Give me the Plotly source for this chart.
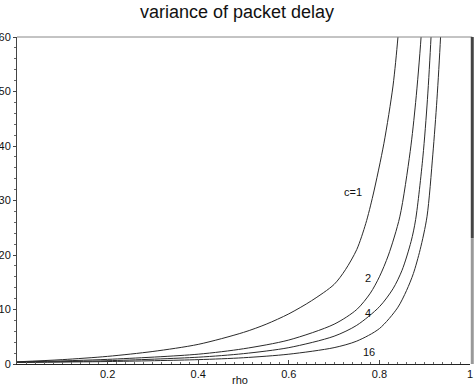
import plotly.graph_objects as go

# data (rho, variance of packet delay)
rho_c1 = [0.0, 0.1, 0.2, 0.3, 0.4, 0.5, 0.55, 0.6, 0.65, 0.7, 0.725, 0.75, 0.77, 0.786, 0.81, 0.83, 0.841, 0.86]
var_c1 = [0.4, 0.8, 1.4, 2.3, 3.6, 5.8, 7.3, 9.2, 11.6, 14.6, 17.3, 21.0, 25.8, 31.0, 40.5, 51.0, 60.0, 80.0]

rho_c2 = [0.0, 0.2, 0.4, 0.5, 0.6, 0.7, 0.75, 0.78, 0.8, 0.82, 0.845, 0.868, 0.88, 0.892, 0.905]
var_c2 = [0.35, 0.85, 1.8, 2.8, 4.4, 7.3, 10.0, 13.0, 16.0, 20.0, 27.0, 39.0, 48.0, 60.0, 80.0]

rho_c4 = [0.0, 0.2, 0.4, 0.5, 0.6, 0.7, 0.75, 0.8, 0.83, 0.85, 0.87, 0.88, 0.896, 0.906, 0.914, 0.925]
var_c4 = [0.3, 0.6, 1.25, 1.9, 3.0, 5.1, 7.1, 10.5, 13.8, 17.2, 22.5, 26.5, 38.0, 48.5, 60.0, 80.0]

rho_c16 = [0.0, 0.2, 0.4, 0.5, 0.6, 0.7, 0.75, 0.8, 0.84, 0.86, 0.875, 0.89, 0.905, 0.918, 0.927, 0.935, 0.945]
var_c16 = [0.3, 0.45, 0.8, 1.15, 1.8, 3.0, 4.2, 6.5, 10.3, 13.5, 16.6, 21.0, 27.0, 38.5, 48.5, 60.0, 80.0]

curve_labels = ["c=1", "2", "4", "16"]
label_rho = [0.742, 0.775, 0.775, 0.777]
label_var = [31.6, 15.8, 9.4, 2.2]

x_tickvals = [0.2, 0.4, 0.6, 0.8, 1]
x_ticktext = ["0.2", "0.4", "0.6", "0.8", "1"]
y_tickvals = [0, 10, 20, 30, 40, 50, 60]

FONT = "Liberation Sans, Arial, sans-serif"
LINE = "#2a2a2a"

fig = go.Figure()
for xs, ys in [(rho_c1, var_c1), (rho_c2, var_c2), (rho_c4, var_c4), (rho_c16, var_c16)]:
    fig.add_trace(go.Scatter(x=xs, y=ys, mode="lines",
                             line=dict(color=LINE, width=1, shape="spline", smoothing=0.8),
                             showlegend=False, hoverinfo="skip"))

for t, xv, yv in zip(curve_labels, label_rho, label_var):
    fig.add_annotation(x=xv, y=yv, text=t, showarrow=False,
                       font=dict(family=FONT, size=11, color="#111"),
                       xanchor="center", yanchor="middle")

# axis title "rho"
fig.add_annotation(xref="paper", yref="paper", x=0.492, y=-0.05, text="rho",
                   showarrow=False, font=dict(family=FONT, size=11, color="#111"),
                   xanchor="center", yanchor="middle")

# top frame line and right-hand bar
fig.add_shape(type="line", xref="paper", yref="paper", x0=0, x1=1.005, y0=1, y1=1,
              line=dict(color="#888", width=1))
fig.add_shape(type="line", xref="paper", yref="paper", x0=1.005, x1=1.005, y0=0.385, y1=1,
              line=dict(color="#444", width=3))
fig.add_shape(type="line", xref="paper", yref="paper", x0=1.005, x1=1.005, y0=0.0, y1=0.385,
              line=dict(color="#999", width=3))

fig.update_layout(
    width=474, height=386,
    margin=dict(l=17, r=4, t=37, b=22, autoexpand=False),
    paper_bgcolor="white", plot_bgcolor="white",
    title=dict(text="variance of packet delay", x=0.5, xanchor="center",
               y=1 - 12 / 386, yanchor="middle", yref="container",
               font=dict(family=FONT, size=18, color="#111")),
    font=dict(family=FONT, size=11, color="#111"),
)
fig.update_xaxes(range=[0, 1], tickvals=x_tickvals, ticktext=x_ticktext, automargin=False,
                 showgrid=False, zeroline=False, showline=True, linecolor="#222", linewidth=1,
                 ticks="inside", ticklen=4, tickcolor="#444",
                 minor=dict(dtick=0.02, ticks="inside", ticklen=2, tickcolor="#666"),
                 tickfont=dict(family=FONT, size=11, color="#111"))
fig.update_yaxes(range=[0, 60], tickvals=y_tickvals, automargin=False,
                 showgrid=False, zeroline=False, showline=True, linecolor="#444", linewidth=1,
                 ticks="outside", ticklen=3, tickcolor="#444",
                 minor=dict(dtick=2, ticks="outside", ticklen=2, tickcolor="#666"),
                 tickfont=dict(family=FONT, size=11, color="#111"))

fig.write_html("out.html",
               config={"displayModeBar": False},
               post_script="document.body.style.margin='0';document.body.style.overflow='hidden';")
